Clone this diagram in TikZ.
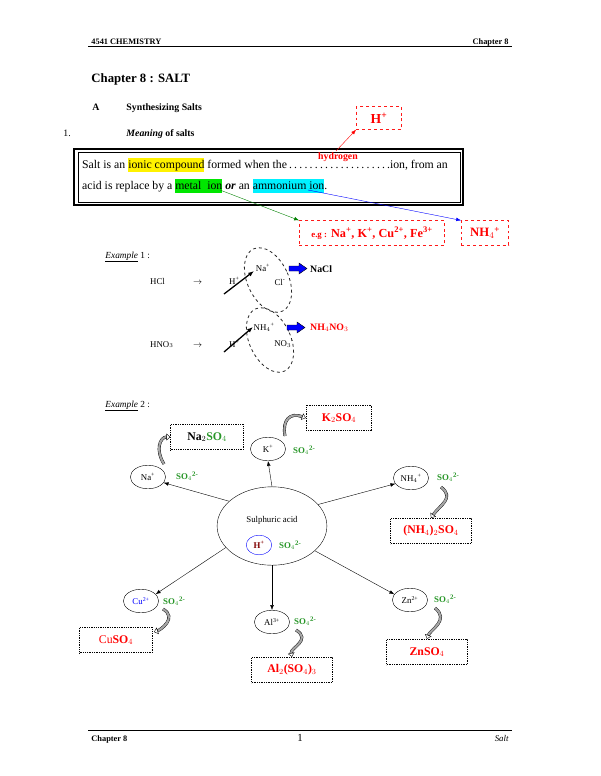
\documentclass[tikz,border=0pt]{standalone}
\usepackage{fontspec}
\setmainfont{Liberation Serif}
\usetikzlibrary{arrows.meta,shapes.geometric}
\definecolor{hlgreen}{RGB}{0,230,0}
\definecolor{hlcyan}{RGB}{0,240,255}
\definecolor{sogreen}{RGB}{40,150,40}
\newcommand{\hlt}[2]{{\setlength{\fboxsep}{0pt}\colorbox{#1}{\strut #2}}}
\newcommand{\sof}{\textcolor{sogreen}{\textbf{SO$_4$\raisebox{0.7ex}{\scriptsize 2-}}}}
\begin{document}
\begin{tikzpicture}[x=1.02pt,y=-1.02pt,
  redbox/.style={draw=red!90,dashed,thick,text=red,font=\bfseries,inner sep=3pt},
  dotbox/.style={draw=black,densely dotted,thick,font=\bfseries\fontsize{12}{14}\selectfont,minimum height=26pt},
  ion/.style={ellipse,draw,thin,font=\fontsize{9}{10}\selectfont,minimum width=36pt,minimum height=24pt,inner sep=0pt},
  arr/.style={-{Latex[length=5pt]},thin},
  garr/.style={draw=black,double=gray!70,double distance=2.2pt,thin,-{Triangle[open,length=4pt,width=7pt]}},
  lbl/.style={font=\fontsize{9}{10}\selectfont,inner sep=0pt}]
\useasboundingbox (0,0) rectangle (600,776);
% header / footer
\node[anchor=base west,font=\bfseries\fontsize{8.5}{9}\selectfont] (hl) at (88,44) {4541 CHEMISTRY};
\node[anchor=base east,font=\bfseries\fontsize{8.5}{9}\selectfont] (hr) at (512,44) {Chapter 8};
\draw (88,46) -- (512,46);
\node[anchor=base west,font=\bfseries\fontsize{8.5}{9}\selectfont] (fl) at (88,741) {Chapter 8};
\node[anchor=base,font=\fontsize{11}{12}\selectfont] (fc) at (300,741) {1};
\node[anchor=base east,font=\itshape\fontsize{9}{10}\selectfont] (fr) at (512,741) {Salt};
\draw (88,730) -- (512,730);
% titles
\node[anchor=base west,font=\bfseries\fontsize{13}{15}\selectfont] (t) at (88,82) {Chapter 8 : SALT};
\node[anchor=base west,font=\bfseries\fontsize{10}{12}\selectfont] (a) at (89,110) {A};
\node[anchor=base west,font=\bfseries\fontsize{10}{12}\selectfont] (s) at (123,110) {Synthesizing Salts};
\node[anchor=base west,font=\fontsize{10}{12}\selectfont] (one) at (60,136) {1.};
\node[anchor=base west,font=\bfseries\fontsize{10}{12}\selectfont] (m) at (123,136) {\textit{Meaning} of salts};
% definition box
\draw[line width=3pt] (74,149) rectangle (463,205);
\draw[line width=0.6pt] (78,152) rectangle (460,202);
\node[anchor=base west,font=\fontsize{12}{14}\selectfont,inner sep=0pt] (l1) at (82,168)
 {Salt is an \hlt{yellow}{ionic compound} formed when the\makebox[102pt]{\dotfill}.ion, from an};
\node[anchor=base west,font=\fontsize{12}{14}\selectfont,inner sep=0pt] (l2) at (82,189)
 {acid is replace by a \hlt{hlgreen}{metal\ \ ion} \textbf{\textit{or}} an \hlt{hlcyan}{ammonium ion}.};
\node[text=red,font=\bfseries\fontsize{10}{12}\selectfont,inner sep=0pt] (hyd) at (338,157) {hydrogen};
\node[redbox,font=\bfseries\fontsize{14}{16}\selectfont,minimum width=46pt,minimum height=23pt] (hp) at (379,118) {H\textsuperscript{+}};
\node[redbox,font=\bfseries\fontsize{12.5}{14}\selectfont,minimum width=148pt,minimum height=25pt] (eg) at (372,233) {{\fontsize{9}{10}\selectfont e.g :} Na\textsuperscript{+}, K\textsuperscript{+}, Cu\textsuperscript{2+}, Fe\textsuperscript{3+}};
\node[redbox,font=\bfseries\fontsize{13}{14}\selectfont,minimum width=48pt,minimum height=25pt] (nh) at (485,233) {NH$_4$\textsuperscript{+}};
\coordinate (hs) at (336,151);
\coordinate (ms) at (220,190);
\coordinate (as) at (308,190);
\draw[red,-{Latex[length=5pt]}] (hs) -- (hp.south west);
\draw[green!50!black,-{Latex[length=5pt]}] (ms) -- (eg.north west);
\draw[blue,-{Latex[length=5pt]}] (as) -- (nh.north west);
% example 1
\node[anchor=base west,font=\fontsize{9.5}{10}\selectfont] (e1) at (102,258) {\underline{\textit{Example}} 1 :};
\node[anchor=base west,lbl] (hcl) at (150,284) {HCl};
\node[anchor=base west,lbl] (ar1) at (193,284) {$\rightarrow$};
\node[anchor=base west,lbl] (h1) at (229,284) {H\textsuperscript{+}};
\draw[dashed,thick,gray!30!black,rotate around={25:(268,280)}] (268,280) ellipse (21pt and 35pt);
\node[lbl] (na) at (263,268) {Na\textsuperscript{+}};
\node[lbl] (cl) at (280,282) {Cl\textsuperscript{-}};
\coordinate (b1) at (224,294);
\draw[-{Latex[length=6pt]},line width=1.3pt] (b1) -- (254,271);
\draw[draw=black,fill=blue,thin] (289,266) -- (299,266) -- (299,263) -- (307,268.5) -- (299,274) -- (299,271) -- (289,271) -- cycle;
\node[anchor=west,font=\bfseries\fontsize{10}{11}\selectfont,inner sep=0pt] (nacl) at (310,269) {NaCl};
\node[anchor=base west,lbl] (hno) at (150,347) {HNO$_3$};
\node[anchor=base west,lbl] (ar2) at (193,347) {$\rightarrow$};
\node[anchor=base west,lbl] (h2) at (229,347) {H\textsuperscript{+}};
\draw[dashed,thick,gray!30!black,rotate around={25:(270,340)}] (270,340) ellipse (21pt and 35pt);
\node[lbl] (nh4) at (264,327) {NH$_4$\textsuperscript{+}};
\node[lbl] (no3) at (284,344) {NO$_3$\textsuperscript{-}};
\coordinate (b2) at (224,352);
\draw[-{Latex[length=6pt]},line width=1.3pt] (b2) -- (253,327);
\draw[draw=black,fill=blue,thin] (287,325) -- (297,325) -- (297,322) -- (305,327.5) -- (297,333) -- (297,330) -- (287,330) -- cycle;
\node[anchor=west,text=red,font=\bfseries\fontsize{10}{11}\selectfont,inner sep=0pt] (nhno) at (310,328) {NH$_4$NO$_3$};
% example 2
\node[anchor=base west,font=\fontsize{9.5}{10}\selectfont] (e2) at (102,407) {\underline{\textit{Example}} 2 :};
\node[ellipse,draw,minimum width=112pt,minimum height=80pt] (c) at (272,526) {};
\node[lbl] (sa) at (272,520) {Sulphuric acid};
\node[ellipse,draw=blue,minimum width=26pt,minimum height=20pt,inner sep=0pt,font=\bfseries\fontsize{9}{10}\selectfont,text=red!50!black] (hc) at (259,545) {H\textsuperscript{+}};
\node[lbl] (sc) at (290,545) {\sof};
% ions
\node[ion] (ina) at (148,477) {Na\textsuperscript{+}};
\node[lbl] (sna) at (187,476) {\sof};
\node[ion] (ik) at (268,449) {K\textsuperscript{+}};
\node[lbl] (sk) at (304,450) {\sof};
\node[ion] (inh) at (411,478) {NH$_4$\textsuperscript{+}};
\node[lbl] (snh) at (448,477) {\sof};
\node[ion,text=blue] (icu) at (141,601) {Cu\textsuperscript{2+}};
\node[lbl] (scu) at (174,601) {\sof};
\node[ion] (ial) at (272,622) {Al\textsuperscript{3+}};
\node[lbl] (sal) at (305,621) {\sof};
\node[ion] (izn) at (410,600) {Zn\textsuperscript{2+}};
\node[lbl] (szn) at (445,599) {\sof};
% radial arrows
\draw[arr] (c.150) -- (ina.-20);
\draw[arr] (c.north) -- (ik.south);
\draw[arr] (c.25) -- (inh.200);
\draw[arr] (c.205) -- (icu.25);
\draw[arr] (c.south) -- (ial.north);
\draw[arr] (c.-30) -- (izn.160);
% product boxes
\node[dotbox,minimum width=74pt] (pna) at (207,437) {Na$_2$\textcolor{sogreen}{SO$_4$}};
\node[dotbox,minimum width=67pt,text=red] (pk) at (339,418) {K$_2$SO$_4$};
\node[dotbox,minimum width=82pt,text=red] (pnh) at (431,531) {(NH$_4$)$_2$SO$_4$};
\node[dotbox,minimum width=74pt,text=red,font=\fontsize{12}{14}\selectfont] (pcu) at (116,640) {Cu\textbf{SO$_4$}};
\node[dotbox,minimum width=82pt,text=red] (pal) at (292,670) {Al$_2$(SO$_4$)$_3$};
\node[dotbox,minimum width=82pt,text=red] (pzn) at (427,652) {ZnSO$_4$};
% gray curved arrows
\draw[garr] (164,464) .. controls (155,450) and (160,437) .. (pna.west);
\draw[garr] (285,436) .. controls (282,420) and (290,412) .. (pk.west);
\draw[garr] (441,487) .. controls (455,498) and (440,505) .. (pnh.north);
\draw[garr] (163,609) .. controls (178,618) and (160,630) .. (154,632);
\draw[garr] (296,630) .. controls (312,640) and (290,648) .. (pal.north);
\draw[garr] (435,608) .. controls (450,620) and (430,630) .. (pzn.north);
\end{tikzpicture}
\end{document}
